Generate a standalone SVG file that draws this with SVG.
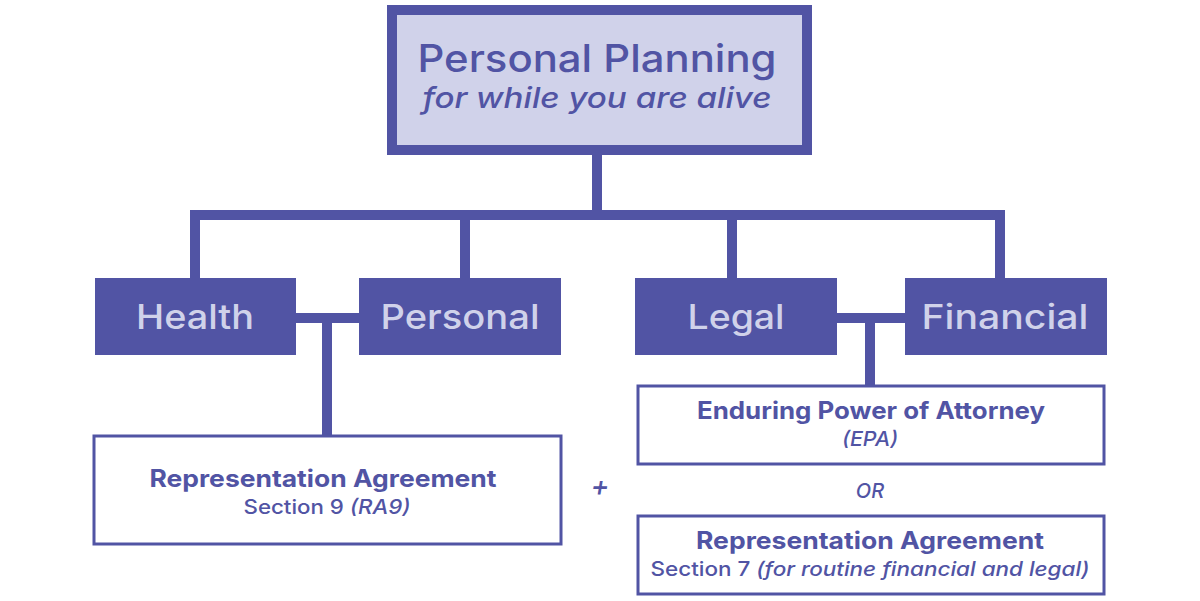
<svg xmlns="http://www.w3.org/2000/svg" width="1200" height="601" viewBox="0 0 1200 601">
<style>
text{font-family:"Inter","Open Sans",sans-serif;fill:#5154a4;text-anchor:middle;font-weight:500}
.c{stroke:#5154a4;stroke-width:10;fill:none}
.f{fill:#5154a4}
.lbl{fill:#d0d2ea;font-size:34px}
.o{fill:#fff;stroke:#5154a4;stroke-width:3}
.b{font-weight:bold;font-size:24px}
.s{font-size:20px}
.i{font-style:italic}
</style>
<rect width="1200" height="601" fill="#fff"/>
<g id="connectors" class="c">
<path d="M597 155V215M190 215H1005M195 215V278M465 215V278M732 215V278M1000 215V278"/>
<path d="M296 318H359M327 318V435M837 318H905M870 318V385"/>
</g>
<g id="top">
<rect x="392" y="10" width="415" height="140" fill="#d0d2ea" stroke="#5154a4" stroke-width="10"/>
<text x="597" y="72" font-size="38" textLength="359" lengthAdjust="spacingAndGlyphs">Personal Planning</text>
<text x="597" y="108" font-size="29" class="i" textLength="349" lengthAdjust="spacingAndGlyphs">for while you are alive</text>
</g>
<g id="health"><rect class="f" x="95" y="278" width="201" height="77"/><text class="lbl" x="195" y="329" textLength="118" lengthAdjust="spacingAndGlyphs">Health</text></g>
<g id="personal"><rect class="f" x="359" y="278" width="202" height="77"/><text class="lbl" x="460" y="329" textLength="159" lengthAdjust="spacingAndGlyphs">Personal</text></g>
<g id="legal"><rect class="f" x="635" y="278" width="202" height="77"/><text class="lbl" x="736" y="329" textLength="97" lengthAdjust="spacingAndGlyphs">Legal</text></g>
<g id="financial"><rect class="f" x="905" y="278" width="202" height="77"/><text class="lbl" x="1005" y="329" textLength="167" lengthAdjust="spacingAndGlyphs">Financial</text></g>
<g id="ra9"><rect class="o" x="94" y="436" width="467" height="108"/>
<text class="b" x="323" y="487" textLength="347" lengthAdjust="spacingAndGlyphs">Representation Agreement</text>
<text class="s" x="327" y="514" textLength="167" lengthAdjust="spacingAndGlyphs">Section 9 <tspan class="i">(RA9)</tspan></text></g>
<text x="600" y="496" font-size="28" class="i" font-weight="bold">+</text>
<g id="epa"><rect class="o" x="638" y="386" width="466" height="78"/>
<text class="b" x="871" y="419" textLength="348" lengthAdjust="spacingAndGlyphs">Enduring Power of Attorney</text>
<text class="s i" x="870" y="446" textLength="56" lengthAdjust="spacingAndGlyphs">(EPA)</text></g>
<text class="s i" x="870" y="498">OR</text>
<g id="ra7"><rect class="o" x="638" y="516" width="466" height="78"/>
<text class="b" x="870" y="549" textLength="348" lengthAdjust="spacingAndGlyphs">Representation Agreement</text>
<text class="s" x="870" y="576" textLength="439" lengthAdjust="spacingAndGlyphs">Section 7 <tspan class="i">(for routine financial and legal)</tspan></text></g>
</svg>
